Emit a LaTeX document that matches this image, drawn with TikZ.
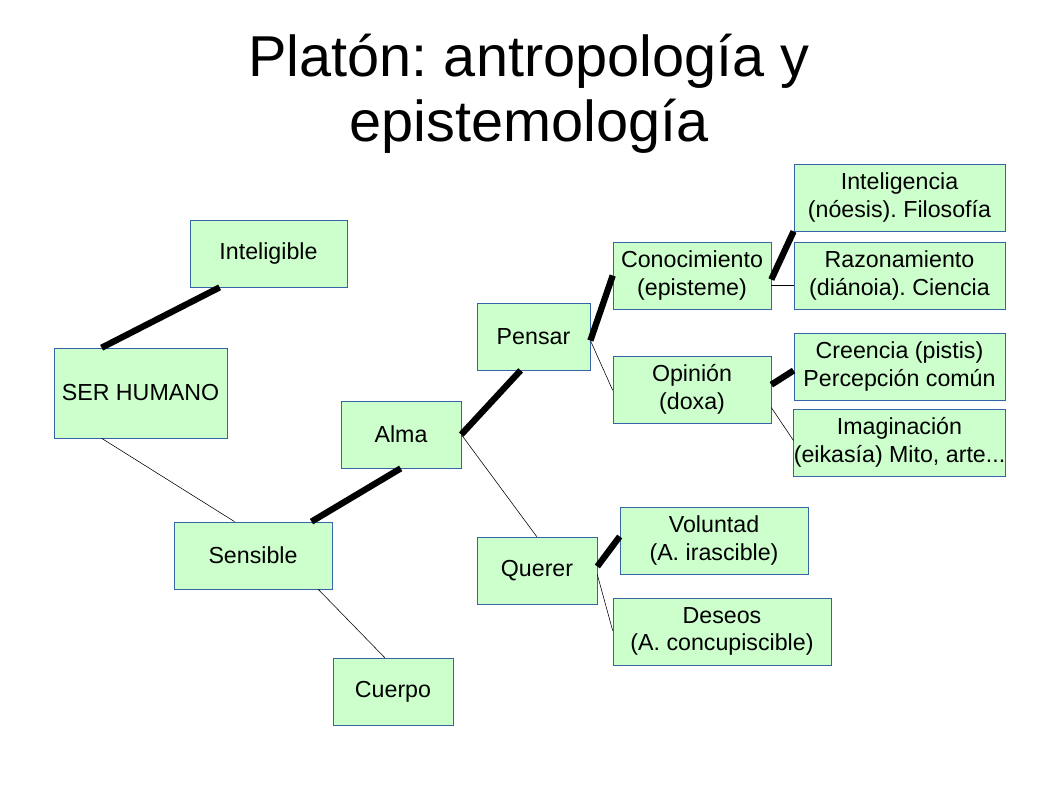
\documentclass[tikz,border=0pt]{standalone}
\usepackage{fontspec}
\setmainfont{Liberation Sans}
\usetikzlibrary{positioning}
\definecolor{boxfill}{HTML}{CCFFCC}
\definecolor{boxline}{HTML}{3465A4}
\frenchspacing
\tikzset{
    concept/.style={
        rectangle,
        draw=boxline,
        fill=boxfill,
        inner sep=1pt,
        align=center,
        font=\fontsize{16.5}{19.5}\selectfont
    },
    strong/.style={
        draw=black,
        line width=4.5pt
    },
    weak/.style={
        draw=black,
        line width=0.4pt
    }
}
\begin{document}
\begin{tikzpicture}[x=0.025cm, y=-0.025cm]

\useasboundingbox (0,0) rectangle (1058,794);

% Title
\node[font=\fontsize{41}{46}\selectfont, align=center] (title) at (529,94) {Platón: antropología y\\epistemología};

% Concepts
\node[concept, minimum width=3.93cm, minimum height=1.68cm] (inteligible) at (268.5,253.5) {Inteligible};
\node[concept, minimum width=4.33cm, minimum height=2.25cm] (ser) at (140.5,393) {SER HUMANO};
\node[concept, minimum width=3.95cm, minimum height=1.68cm] (sensible) at (253,555.5) {Sensible};
\node[concept, minimum width=3cm, minimum height=1.68cm] (cuerpo) at (393,691.5) {Cuerpo};
\node[concept, minimum width=3cm, minimum height=1.68cm] (alma) at (401,434.5) {Alma};
\node[concept, minimum width=2.83cm, minimum height=1.68cm] (pensar) at (533.5,336.5) {Pensar};
\node[concept, minimum width=3cm, minimum height=1.68cm] (querer) at (537,570.5) {Querer};
\node[concept, minimum width=3.95cm, minimum height=1.68cm] (conoc) at (692,275.5) {Conocimiento\\(episteme)};
\node[concept, minimum width=3.95cm, minimum height=1.68cm] (opinion) at (692,389.5) {Opinión\\(doxa)};
\node[concept, minimum width=5.28cm, minimum height=1.68cm] (intel) at (899.5,197.5) {Inteligencia\\(nóesis). Filosofía};
\node[concept, minimum width=5.28cm, minimum height=1.68cm] (razon) at (899.5,275.5) {Razonamiento\\(diánoia). Ciencia};
\node[concept, minimum width=5.28cm, minimum height=1.68cm] (creencia) at (899.5,366.5) {Creencia (pistis)\\Percepción común};
\node[concept, minimum width=5.28cm, minimum height=1.68cm, inner sep=0pt] (imagin) at (899.5,442.5) {Imaginación\\(eikasía) Mito, arte...};
\node[concept, minimum width=4.7cm, minimum height=1.68cm] (voluntad) at (714,540.5) {Voluntad\\(A. irascible)};
\node[concept, minimum width=5.45cm, minimum height=1.68cm] (deseos) at (722,631.5) {Deseos\\(A. concupiscible)};

% Connectors
\draw[strong] ([xshift=0.75cm]inteligible.south west) -- ([xshift=1.2cm]ser.north west);
\draw[weak] ([xshift=1.2cm]ser.south west) -- ([xshift=1.52cm]sensible.north west);
\draw[strong] ([xshift=-0.52cm]sensible.north east) -- ([xshift=1.5cm]alma.south west);
\draw[weak] ([xshift=-0.35cm]sensible.south east) -- ([xshift=1.3cm]cuerpo.north west);
\draw[strong] (alma.east) -- ([xshift=1.1cm]pensar.south west);
\draw[weak] (alma.east) -- ([xshift=1.5cm]querer.north west);
\draw[strong] ([yshift=-0.1cm]pensar.east) -- (conoc.west);
\draw[weak] ([yshift=-0.1cm]pensar.east) -- ([yshift=-0.02cm]opinion.west);
\draw[strong] ([yshift=-0.1cm]conoc.east) -- (intel.south west);
\draw[weak] ([yshift=-0.25cm]conoc.east) -- ([yshift=-0.25cm]razon.west);
\draw[strong] ([yshift=0.12cm]opinion.east) -- ([yshift=-0.1cm]creencia.west);
\draw[weak] ([yshift=-0.45cm]opinion.east) -- ([yshift=0.05cm]imagin.west);
\draw[strong] ([yshift=0.1cm]querer.east) -- ([yshift=0.1cm]voluntad.west);
\draw[weak] ([yshift=-0.1cm]querer.east) -- ([yshift=0.02cm]deseos.west);

\end{tikzpicture}
\end{document}
